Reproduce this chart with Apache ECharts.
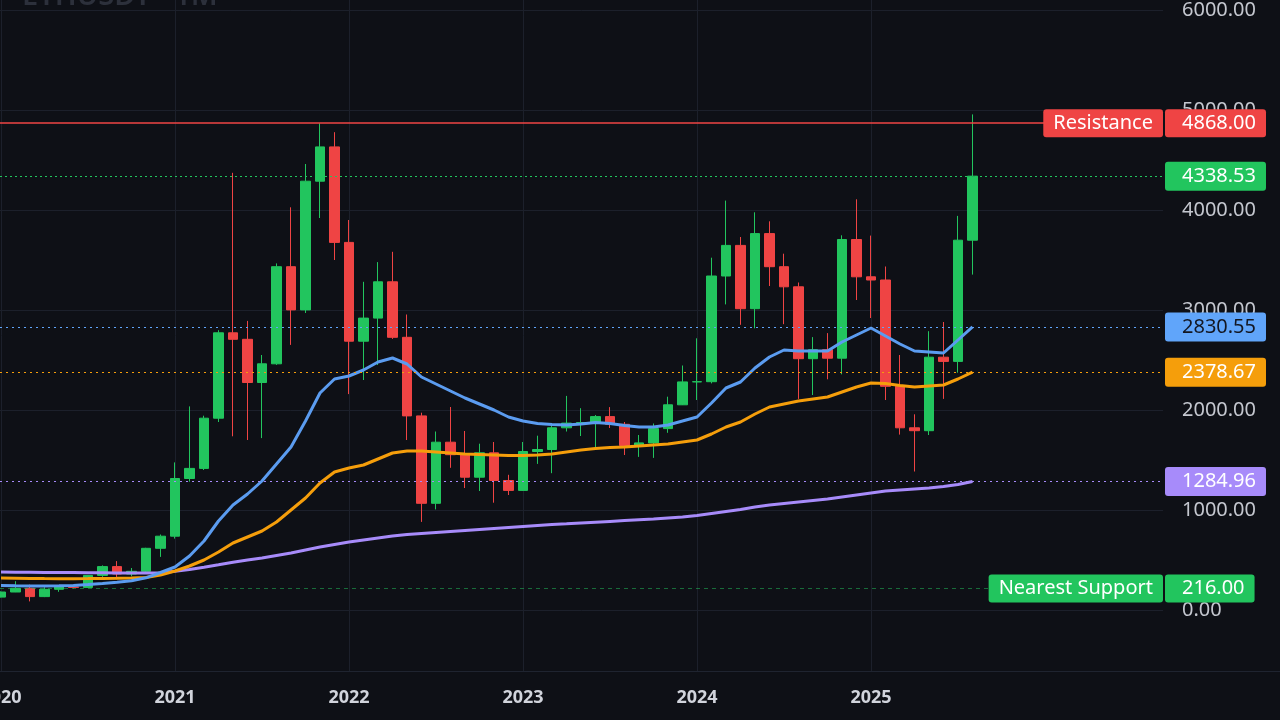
<!DOCTYPE html>
<html>
<head>
<meta charset="utf-8">
<script src="https://cdn.jsdelivr.net/npm/echarts@6/dist/echarts.min.js"></script>
<style>
html,body{margin:0;padding:0;background:#0e1016;}
#c{width:1280px;height:720px;}
</style>
</head>
<body>
<div id="c"></div>
<script>
// ---- data (monthly, Jan 2020 .. Aug 2025) ----
const yearLabels = ['2020', '2021', '2022', '2023', '2024', '2025'];
const yTickLabels = ['0.00', '1000.00', '2000.00', '3000.00', '4000.00', '5000.00', '6000.00'];

// [open, close, low, high]
const ohlc = [
  [129, 180, 126, 185], [180, 217, 179, 288], [217, 134, 86, 254], [134, 207, 129, 228],
  [207, 231, 182, 247], [231, 226, 216, 254], [226, 346, 223, 349], [346, 434, 331, 446],
  [434, 360, 308, 489], [360, 387, 337, 420], [387, 617, 374, 622], [617, 738, 531, 755],
  [738, 1315, 714, 1476], [1315, 1416, 1283, 2036], [1416, 1918, 1400, 1943], [1918, 2772, 1880, 2798],
  [2772, 2707, 1737, 4372], [2707, 2275, 1700, 2891], [2275, 2462, 1719, 2550], [2462, 3433, 2451, 3466],
  [3433, 3001, 2651, 4027], [3001, 4288, 2970, 4460], [4288, 4631, 3920, 4868], [4631, 3676, 3500, 4778],
  [3676, 2688, 2159, 3900], [2688, 2919, 2300, 3282], [2919, 3282, 2450, 3479], [3282, 2727, 2711, 3582],
  [2727, 1941, 1700, 2955], [1941, 1067, 881, 1973], [1067, 1678, 1006, 1785], [1678, 1553, 1422, 2030],
  [1553, 1328, 1220, 1790], [1328, 1572, 1190, 1663], [1572, 1295, 1073, 1680], [1295, 1196, 1150, 1352],
  [1196, 1585, 1190, 1680], [1585, 1605, 1461, 1743], [1605, 1822, 1368, 1857], [1822, 1869, 1785, 2141],
  [1869, 1874, 1740, 2018], [1874, 1934, 1626, 1950], [1934, 1857, 1820, 2029], [1857, 1645, 1550, 1880],
  [1645, 1671, 1531, 1750], [1671, 1814, 1521, 1865], [1814, 2052, 1772, 2133], [2052, 2281, 2120, 2445],
  [2281, 2283, 2100, 2717], [2283, 3340, 2266, 3523], [3340, 3646, 3056, 4094], [3646, 3013, 2852, 3730],
  [3013, 3764, 2817, 3977], [3764, 3433, 3240, 3887], [3433, 3232, 2858, 3563], [3232, 2513, 2111, 3275],
  [2513, 2603, 2150, 2729], [2603, 2518, 2307, 2769], [2518, 3705, 2357, 3747], [3705, 3332, 3100, 4107],
  [3332, 3300, 2920, 3744], [3300, 2237, 2100, 3435], [2237, 1822, 1754, 2550], [1822, 1793, 1385, 1957],
  [1793, 2528, 1750, 2788], [2528, 2486, 2111, 2880], [2486, 3698, 2373, 3941], [3698, 4338.53, 3354, 4956]
];

const maBlue = [
  245, 242, 240, 240, 242, 246, 255, 265, 278, 292, 322, 375,
  430, 540, 690, 890, 1050, 1160, 1290, 1460, 1630, 1890, 2170, 2310,
  2340, 2400, 2480, 2520, 2460, 2330, 2260, 2190, 2120, 2060, 2000, 1930,
  1890, 1865, 1855, 1850, 1860, 1875, 1865, 1845, 1830, 1830, 1850, 1890,
  1930, 2070, 2220, 2280, 2420, 2530, 2600, 2590, 2590, 2590, 2680, 2750,
  2820, 2740, 2660, 2590, 2580, 2570, 2700, 2830.55
];
const maOrange = [
  320, 318, 316, 314, 313, 313, 314, 316, 318, 321, 326, 350,
  390, 440, 500, 580, 670, 730, 790, 880, 1000, 1120, 1270, 1380,
  1420, 1450, 1510, 1570, 1590, 1590, 1580, 1570, 1560, 1555, 1550, 1545,
  1545, 1550, 1560, 1580, 1600, 1615, 1625, 1630, 1640, 1650, 1660, 1680,
  1700, 1760, 1830, 1880, 1960, 2030, 2060, 2090, 2110, 2130, 2180, 2230,
  2270, 2265, 2245, 2230, 2240, 2250, 2310, 2378.67
];
const maPurple = [
  380, 378, 377, 376, 375, 374, 373, 372, 371, 370, 370, 372,
  388, 405, 428, 452, 478, 500, 520, 545, 570, 600, 630, 655,
  680, 700, 720, 740, 755, 765, 775, 785, 795, 805, 815, 825,
  835, 845, 855, 862, 870, 878, 886, 894, 902, 910, 920, 930,
  945, 965, 985, 1005, 1030, 1050, 1065, 1080, 1095, 1110, 1130, 1150,
  1170, 1190, 1200, 1210, 1220, 1235, 1255, 1284.96
];

const levelValues = [4868, 4338.53, 2830.55, 2378.67, 1284.96, 216];
const levelNames = ['Resistance', '', '', '', '', 'Nearest Support'];

// ---- styles ----
const FONT = '"Noto Sans", sans-serif';
const UP = '#22c55e', DOWN = '#ef4444';
const BLUE = '#5b9cf0', ORANGE = '#f59e0b', PURPLE = '#a78bfa';
const GRID = '#1c202b';
const levelStyles = [
  { line: DOWN, type: 'solid', width: 1.5, bg: '#ef4444', fg: '#ffffff' },
  { line: UP, type: [2, 3], width: 1, bg: '#22c55e', fg: '#ffffff' },
  { line: '#60a5fa', type: [2, 4], width: 1, bg: '#60a5fa', fg: '#131722' },
  { line: ORANGE, type: [2, 4], width: 1, bg: '#f59e0b', fg: '#ffffff' },
  { line: PURPLE, type: [2, 4], width: 1, bg: '#a78bfa', fg: '#ffffff' },
  { line: 'rgba(34,197,94,0.5)', type: [4, 4], width: 1, bg: '#22c55e', fg: '#ffffff' }
];

const measureCtx = document.createElement('canvas').getContext('2d');
function textW(t) { measureCtx.font = '20px ' + FONT; return measureCtx.measureText(t).width; }

const boxText = { fontSize: 20, lineHeight: 21, fontFamily: FONT };
const markData = levelValues.map((v, k) => {
  const s = levelStyles[k];
  const priceTxt = v.toFixed(2);
  let label;
  if (levelNames[k]) {
    label = {
      show: true, position: 'end', distance: 2,
      offset: [-(textW(levelNames[k]) + 20 + 2), 0],
      formatter: '{n|' + levelNames[k] + '}{g| }{p|' + priceTxt + '}',
      rich: {
        n: Object.assign({ backgroundColor: s.bg, color: s.fg, padding: [4, 10, 4, 10], borderRadius: 3 }, boxText),
        g: { width: 2, fontSize: 20, lineHeight: 21 },
        p: Object.assign({ backgroundColor: s.bg, color: s.fg, padding: [4, 10, 4, 17], borderRadius: 3 }, boxText)
      }
    };
  } else {
    label = Object.assign({
      show: true, position: 'end', distance: 2, formatter: priceTxt,
      backgroundColor: s.bg, color: s.fg, padding: [4, 10, 4, 17], borderRadius: 3
    }, boxText);
  }
  return { yAxis: v, lineStyle: { color: s.line, type: s.type, width: s.width }, label: label };
});

const chart = echarts.init(document.getElementById('c'), null, { renderer: 'canvas' });
// month index i is drawn at x = 1 + 14.5 * i ; plot spans x 0..1163
const XMIN = -1 / 14.5, XMAX = 1162 / 14.5;

const option = {
  backgroundColor: '#0e1016',
  animation: false,
  textStyle: { fontFamily: FONT },
  graphic: [
    { type: 'text', left: 22, top: -18, z: 0,
      style: { text: 'ETHUSDT · 1M', fill: '#2c303b', font: '600 29px ' + FONT } },
    { type: 'line', z: 0, shape: { x1: 0, y1: 671.5, x2: 1280, y2: 671.5 },
      style: { stroke: '#1f2430', lineWidth: 1 } }
  ],
  grid: [
    { left: 0, right: 117, top: 10, bottom: 110, containLabel: false, outerBoundsMode: 'none' },
    { left: 1, right: 249.5, top: 0, bottom: 49, containLabel: false, outerBoundsMode: 'none' }
  ],
  xAxis: [
    { type: 'value', gridIndex: 0, min: XMIN, max: XMAX, show: false },
    { type: 'value', gridIndex: 1, min: 0, max: 71, interval: 12,
      axisLine: { show: false }, axisTick: { show: false },
      splitLine: { show: true, showMaxLine: false, lineStyle: { color: GRID, width: 1 } },
      axisLabel: {
        margin: 18, color: '#d1d4dc', fontSize: 18, fontWeight: 'bold', fontFamily: FONT,
        showMinLabel: true, showMaxLabel: false,
        formatter: v => (yearLabels[v / 12] !== undefined) ? yearLabels[v / 12] : ''
      }
    }
  ],
  yAxis: [
    { type: 'value', gridIndex: 0, position: 'right', min: 0, max: 6000, interval: 1000,
      axisLine: { show: false }, axisTick: { show: false },
      splitLine: { show: true, lineStyle: { color: GRID, width: 1 } },
      axisLabel: { margin: 19, color: '#c4c7cf', fontSize: 20, fontFamily: FONT, align: 'left',
        formatter: v => yTickLabels[Math.round(v / 1000)] }
    },
    { type: 'value', gridIndex: 1, min: 0, max: 1, show: false, splitLine: { show: false } }
  ],
  series: [
    {
      type: 'candlestick', xAxisIndex: 0, yAxisIndex: 0,
      data: ohlc.map((d, i) => [i, d[0], d[1], d[2], d[3]]),
      encode: { x: 0, y: [1, 2, 3, 4] },
      barWidth: 10,
      itemStyle: { color: UP, color0: DOWN, borderColor: UP, borderColor0: DOWN, borderWidth: 1 },
      markLine: { silent: true, symbol: ['none', 'none'], animation: false, data: markData },
      z: 2
    },
    { type: 'line', xAxisIndex: 0, yAxisIndex: 0, data: maPurple.map((v, i) => [i, v]),
      showSymbol: false, lineStyle: { color: PURPLE, width: 3 }, z: 3 },
    { type: 'line', xAxisIndex: 0, yAxisIndex: 0, data: maOrange.map((v, i) => [i, v]),
      showSymbol: false, lineStyle: { color: ORANGE, width: 3 }, z: 3 },
    { type: 'line', xAxisIndex: 0, yAxisIndex: 0, data: maBlue.map((v, i) => [i, v]),
      showSymbol: false, lineStyle: { color: BLUE, width: 3 }, z: 3 }
  ]
};
chart.setOption(option);
</script>
</body>
</html>
